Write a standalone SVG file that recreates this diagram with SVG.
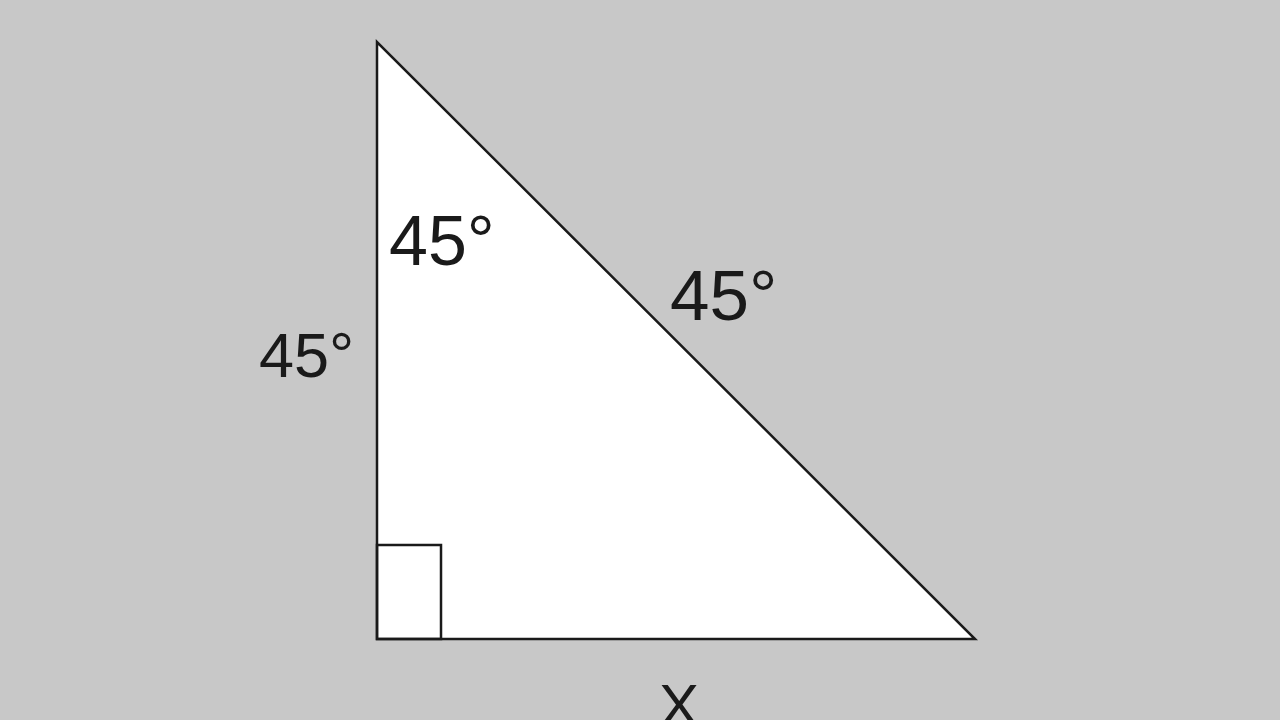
<svg xmlns="http://www.w3.org/2000/svg" width="1280" height="720" viewBox="0 0 1280 720">
<style>
.lbl{font-family:"Liberation Sans",Arial,sans-serif;fill:#1a1a1a}
.ln{fill:none;stroke:#1a1a1a;stroke-width:2.5}
</style>
<rect width="1280" height="720" fill="#c8c8c8"/>
<g id="triangle">
<polygon points="377,42 377,639 975,639" fill="#ffffff" stroke="#1a1a1a" stroke-width="2.5" stroke-linejoin="miter"/>
<rect class="ln" x="377" y="545" width="64" height="94"/>
</g>
<g id="labels">
<text class="lbl" x="389" y="265" font-size="70">45°</text>
<text class="lbl" x="259" y="377" font-size="63">45°</text>
<text class="lbl" x="670" y="320" font-size="71">45°</text>
<text class="lbl" x="659" y="726" font-size="60">X</text>
</g>
</svg>
